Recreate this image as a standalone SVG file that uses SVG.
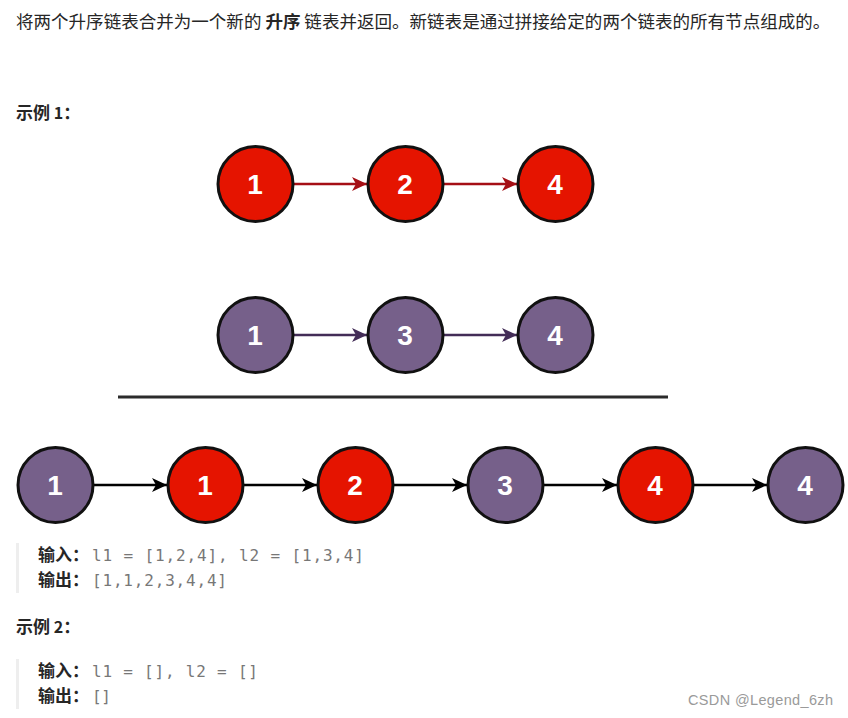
<svg xmlns="http://www.w3.org/2000/svg" width="848" height="718" viewBox="0 0 848 718">
<style>
text{font-family:"Open Sans","Noto Sans CJK SC",sans-serif}
.cn{font-family:"Noto Sans CJK SC","Noto Sans",sans-serif;font-size:17px;fill:#262626}
.top{font-size:17.550px}
.b{font-weight:700}
.m{font-family:"DejaVu Sans Mono","Liberation Mono",monospace;font-size:16px;fill:#777}
.n{stroke:#111;stroke-width:3}
.red{fill:#e51400}
.pur{fill:#76608a}
.l{font-family:"Liberation Sans",Arial,sans-serif;font-size:28px;font-weight:700;fill:#fff;text-anchor:middle}
.c{fill:none;stroke-width:2.400}
.w{font-family:"Liberation Sans",Arial,sans-serif;font-size:14.500px;fill:#9a9a9a}
</style>
<defs>
<marker id="ar" markerUnits="userSpaceOnUse" markerWidth="17" markerHeight="16" refX="16" refY="8" orient="auto"><path d="M1 1L16 8L1 15L5 8Z" fill="#a50f15"/></marker>
<marker id="ap" markerUnits="userSpaceOnUse" markerWidth="17" markerHeight="16" refX="16" refY="8" orient="auto"><path d="M1 1L16 8L1 15L5 8Z" fill="#432d57"/></marker>
<marker id="ak" markerUnits="userSpaceOnUse" markerWidth="17" markerHeight="16" refX="16" refY="8" orient="auto"><path d="M1 1L16 8L1 15L5 8Z" fill="#000"/></marker>
</defs>
<rect width="848" height="718" fill="#fff"/>
<g id="text-top">
<text class="cn top" x="16" y="28">将两个升序链表合并为一个新的 <tspan class="b">升序</tspan> 链表并返回。新链表是通过拼接给定的两个链表的所有节点组成的。</text>
<text class="cn b" x="16" y="119">示例 <tspan font-size="16">1</tspan>：</text>
</g>
<g id="connectors">
<path class="c" stroke="#a50f15" marker-end="url(#ar)" d="M294 184H367"/>
<path class="c" stroke="#a50f15" marker-end="url(#ar)" d="M444 184H517"/>
<path class="c" stroke="#432d57" marker-end="url(#ap)" d="M294 335H367"/>
<path class="c" stroke="#432d57" marker-end="url(#ap)" d="M444 335H517"/>
<path d="M118 397H668" stroke="#2b2b2b" stroke-width="3" fill="none"/>
<path class="c" stroke="#000" marker-end="url(#ak)" d="M94 485H167"/>
<path class="c" stroke="#000" marker-end="url(#ak)" d="M244 485H317"/>
<path class="c" stroke="#000" marker-end="url(#ak)" d="M394 485H467"/>
<path class="c" stroke="#000" marker-end="url(#ak)" d="M544 485H617"/>
<path class="c" stroke="#000" marker-end="url(#ak)" d="M694 485H767"/>
</g>
<g id="a1"><circle class="n red" cx="255.500" cy="184" r="37.500"/><text class="l" x="255" y="194">1</text></g>
<g id="a2"><circle class="n red" cx="405.500" cy="184" r="37.500"/><text class="l" x="405" y="194">2</text></g>
<g id="a4"><circle class="n red" cx="555.500" cy="184" r="37.500"/><text class="l" x="555" y="194">4</text></g>
<g id="b1"><circle class="n pur" cx="255.500" cy="335" r="37.500"/><text class="l" x="255" y="345">1</text></g>
<g id="b3"><circle class="n pur" cx="405.500" cy="335" r="37.500"/><text class="l" x="405" y="345">3</text></g>
<g id="b4"><circle class="n pur" cx="555.500" cy="335" r="37.500"/><text class="l" x="555" y="345">4</text></g>
<g id="m1"><circle class="n pur" cx="55.500" cy="485" r="37.500"/><text class="l" x="55" y="495">1</text></g>
<g id="m2"><circle class="n red" cx="205.500" cy="485" r="37.500"/><text class="l" x="205" y="495">1</text></g>
<g id="m3"><circle class="n red" cx="355.500" cy="485" r="37.500"/><text class="l" x="355" y="495">2</text></g>
<g id="m4"><circle class="n pur" cx="505.500" cy="485" r="37.500"/><text class="l" x="505" y="495">3</text></g>
<g id="m5"><circle class="n red" cx="655.500" cy="485" r="37.500"/><text class="l" x="655" y="495">4</text></g>
<g id="m6"><circle class="n pur" cx="805.500" cy="485" r="37.500"/><text class="l" x="805" y="495">4</text></g>
<g id="text-bottom">
<rect x="16" y="543" width="3" height="50" fill="#eee"/>
<text class="cn b" x="38" y="561">输入：</text>
<text class="m" x="92" y="561" textLength="272">l1 = [1,2,4], l2 = [1,3,4]</text>
<text class="cn b" x="38" y="586">输出：</text>
<text class="m" x="92" y="586" textLength="135">[1,1,2,3,4,4]</text>
<text class="cn b" x="16" y="633">示例 <tspan font-size="16">2</tspan>：</text>
<rect x="16" y="659" width="3" height="50" fill="#eee"/>
<text class="cn b" x="38" y="677">输入：</text>
<text class="m" x="92" y="677" textLength="166">l1 = [], l2 = []</text>
<text class="cn b" x="38" y="702">输出：</text>
<text class="m" x="92" y="702" textLength="19">[]</text>
<text class="w" x="688" y="705" textLength="145">CSDN @Legend_6zh</text>
</g>
</svg>
